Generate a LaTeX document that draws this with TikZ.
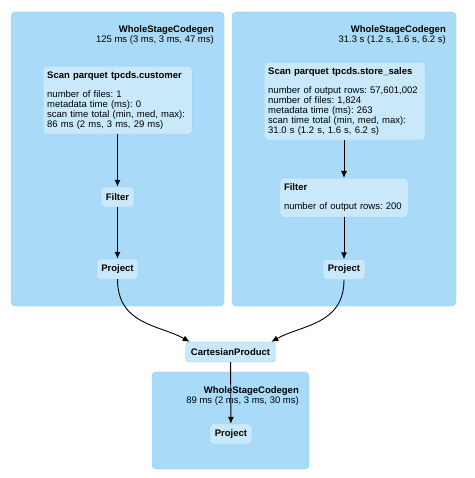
\documentclass[tikz,border=0pt]{standalone}
\usepackage{fontspec}
\setmainfont{Liberation Sans}
\usetikzlibrary{arrows.meta}
\frenchspacing

\definecolor{clusterfill}{HTML}{A9DBF9}
\definecolor{clusterline}{HTML}{8BCBF1}
\definecolor{opfill}{HTML}{C9E9FB}
\definecolor{opline}{HTML}{92CDF1}

\newcommand{\planfont}{\fontsize{9.5}{10}\selectfont}

\tikzset{
  cluster/.style={fill=clusterfill, draw=clusterline, rounded corners=4pt},
  op/.style={fill=opfill, draw=opline, rounded corners=3pt, font=\planfont\bfseries,
    inner xsep=5pt, inner ysep=3pt, minimum height=20pt},
  metric/.style={op, font=\planfont, align=left, inner xsep=4pt, inner ysep=5pt},
  stagelabel/.style={align=right, anchor=north east, inner sep=0pt, font=\planfont},
  flow/.style={-{Latex[length=7pt,width=6pt]}, line width=0.9pt}
}

\begin{document}
\begin{tikzpicture}[x=1pt, y=-1pt]
    \useasboundingbox (0,0) rectangle (474,478);
    % stages
    \draw[cluster] (11,12) rectangle (224,306);
    \draw[cluster] (232,12) rectangle (456,306);
    \draw[cluster] (152,372) rectangle (309,469);
    \node[stagelabel] (stagea) at (214,25) {\textbf{WholeStageCodegen}\\125 ms (3 ms, 3 ms, 47 ms)};
    \node[stagelabel] (stageb) at (446,25) {\textbf{WholeStageCodegen}\\31.3 s (1.2 s, 1.6 s, 6.2 s)};
    \node[stagelabel] (stagec) at (299,386) {\textbf{WholeStageCodegen}\\89 ms (2 ms, 3 ms, 30 ms)};
    % operators
    \node[metric, anchor=north west, text width=141pt, minimum height=67pt] (scancust) at (43,66)
      {\textbf{Scan parquet tpcds.customer}\\[9pt]number of files: 1\\metadata time (ms): 0\\scan time total (min, med, max):\\86 ms (2 ms, 3 ms, 29 ms)};
    \node[op] (filterl) at (117.5,197) {Filter};
    \node[op] (projl) at (117.5,269) {Project};
    \node[metric, anchor=north west, text width=153pt, minimum height=76pt] (scanss) at (264,62)
      {\textbf{Scan parquet tpcds.store\_sales}\\[9pt]number of output rows: 57,601,002\\number of files: 1,824\\metadata time (ms): 263\\scan time total (min, med, max):\\31.0 s (1.2 s, 1.6 s, 6.2 s)};
    \node[metric, anchor=north, text width=120pt, minimum height=39pt] (filterr) at (344,178)
      {\textbf{Filter}\\[9pt]number of output rows: 200};
    \node[op] (projr) at (344,269.5) {Project};
    \node[op] (cart) at (230.5,352) {CartesianProduct};
    \node[op] (projc) at (231,434) {Project};
    % edges
    \draw[flow] (scancust.south -| filterl) -- (filterl.north);
    \draw[flow] (filterl) -- (projl);
    \draw[flow] (scanss.south -| filterr) -- (filterr.north);
    \draw[flow] (filterr) -- (projr);
    \draw[flow] (projl.south) .. controls (117.5,325) and (160,325) .. ([xshift=4pt]cart.north west);
    \draw[flow] (projr.south) .. controls (344,325) and (301,325) .. ([xshift=-4pt]cart.north east);
    \draw[flow] (cart) -- (projc);
\end{tikzpicture}
\end{document}
